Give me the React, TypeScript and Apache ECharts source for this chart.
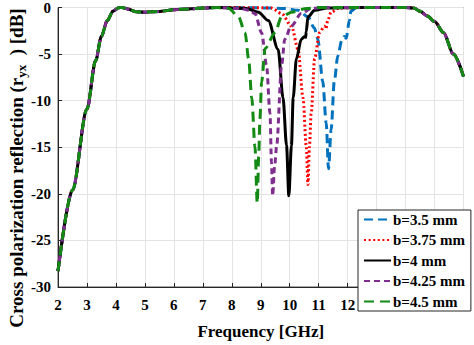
import React, { useEffect, useRef } from "react";
import * as echarts from "echarts";

const seriesNames = ["b=3.5 mm", "b=3.75 mm", "b=4 mm", "b=4.25 mm", "b=4.5 mm"];
const colors = ["#0072BD", "#FF0000", "#000000", "#7E2F8E", "#138A13"];

const commonStart: number[][] = [
  [2, -28.3], [2.5, -19.6], [3, -10.9], [3.3, -5.7], [3.5, -3.1], [3.7, -1.4],
  [3.9, -0.4], [4.1, -0.02], [4.2, 0], [4.4, -0.15],
  [4.7, -0.45], [5, -0.5], [5.5, -0.42], [6, -0.25], [6.5, -0.15], [7, -0.05], [7.5, 0],
];
const commonEnd: number[][] = [
  [12.5, 0], [13, 0], [13.5, 0], [14, 0], [14.28, -0.05], [14.5, -0.4], [14.75, -0.9],
  [15, -1.5], [15.31, -2.7], [15.65, -5], [16, -7.4],
];

const dipB35: number[][] = [
  [8.5, -0.02], [9.3, -0.05], [9.83, -0.1], [10.29, -0.3], [10.63, -1], [10.85, -2.2],
  [10.97, -3.4], [11.14, -7.9], [11.26, -12.4], [11.34, -17.3], [11.43, -13.1],
  [11.54, -7.9], [11.66, -5.2], [11.8, -3.5], [11.89, -3.1], [11.95, -3.3], [12.06, -1.4],
  [12.11, -0.4], [12.3, 0],
];
const dipB375: number[][] = [
  [9, -0.02], [9.37, -0.05], [9.72, -0.65], [10.06, -2], [10.29, -4.5], [10.46, -9.7],
  [10.57, -14.8], [10.63, -19], [10.68, -15], [10.74, -11.4], [10.86, -5.5], [11.03, -2.7],
  [11.2, -2], [11.25, -2.3], [11.31, -1.4], [11.43, -0.5], [11.7, -0.05],
];
const dipB4: number[][] = [
  [8.5, -0.1], [8.92, -0.5], [9.26, -1.4], [9.6, -4.5], [9.77, -9.7], [9.89, -14.8],
  [9.97, -20.2], [10.06, -14.8], [10.12, -9.7], [10.23, -5.5], [10.4, -3.4], [10.52, -3.1],
  [10.55, -3.2], [10.57, -2.6], [10.63, -1], [10.86, -0.3], [11.3, -0.05],
];
const dipB425: number[][] = [
  [8.3, -0.1], [8.6, -0.3], [8.8, -0.65], [9.03, -2.7], [9.2, -6.2], [9.32, -11.4],
  [9.37, -16.6], [9.41, -20.2], [9.48, -17], [9.55, -14.8], [9.72, -6.2], [9.83, -3.4],
  [10.05, -2], [10.4, -0.65], [10.75, -0.1], [11.2, 0],
];
const dipB45: number[][] = [
  [7.9, -0.1], [8.23, -1], [8.46, -2.7], [8.58, -5.5], [8.69, -9.7], [8.8, -14.9],
  [8.88, -21], [8.93, -16], [8.97, -12], [9.03, -8], [9.15, -4.4], [9.49, -2.7],
  [9.72, -1], [10.06, -0.5], [10.6, -0.1], [11, 0],
];

const dips = [dipB35, dipB375, dipB4, dipB425, dipB45];
const dashTypes: any[] = [[9, 5], [2, 2.6], "solid", [6, 4], [10, 6]];

const xTicks = { min: 2, max: 16, interval: 1 };
const yTicks = { min: -30, max: 0, interval: 5 };

const FONT = "'Liberation Serif', 'Times New Roman', serif";

export default function App() {
  const ref = useRef<HTMLDivElement>(null);
  useEffect(() => {
    if (!ref.current) return;
    const chart = echarts.init(ref.current, undefined, { renderer: "svg" });
    const series = seriesNames.map((name, i) => ({
      name,
      type: "line",
      data: [...commonStart, ...dips[i], ...commonEnd],
      smooth: 0.3,
      smoothMonotone: "x",
      symbol: "none",
      showSymbol: false,
      lineStyle: { color: colors[i], width: 3, type: dashTypes[i] },
      itemStyle: { color: colors[i] },
      z: 2 + i,
    }));
    chart.setOption({
      animation: false,
      backgroundColor: "#ffffff",
      grid: {
        left: 58, right: 7, top: 7, bottom: 49,
        show: true, borderColor: "#555", borderWidth: 1, backgroundColor: "transparent",
      },
      xAxis: {
        type: "value", ...xTicks,
        axisLine: { show: true, onZero: false, lineStyle: { color: "#262626", width: 1 } },
        axisTick: { show: true, inside: true, length: 4, lineStyle: { color: "#262626" } },
        axisLabel: { color: "#000", fontFamily: FONT, fontWeight: "bold", fontSize: 15, margin: 10 },
        splitLine: { show: true, lineStyle: { color: "#e3e3e3", width: 1 } },
        name: "Frequency [GHz]",
        nameLocation: "middle",
        nameGap: 36,
        nameTextStyle: { color: "#000", fontFamily: FONT, fontWeight: "bold", fontSize: 17 },
      },
      yAxis: {
        type: "value", ...yTicks,
        axisLine: { show: true, onZero: false, lineStyle: { color: "#262626", width: 1 } },
        axisTick: { show: true, inside: true, length: 4, lineStyle: { color: "#262626" } },
        axisLabel: { color: "#000", fontFamily: FONT, fontWeight: "bold", fontSize: 15, margin: 7 },
        splitLine: { show: true, lineStyle: { color: "#e3e3e3", width: 1 } },
      },
      legend: {
        orient: "vertical",
        left: 358,
        top: 210,
        width: 107,
        padding: [2, 6, 2, 5],
        itemWidth: 27,
        itemHeight: 12,
        itemGap: 5.5,
        backgroundColor: "#fff",
        borderColor: "#262626",
        borderWidth: 1,
        borderRadius: 0,
        itemStyle: { opacity: 0 },
        textStyle: { color: "#000", fontFamily: FONT, fontWeight: "bold", fontSize: 15, padding: [0, 0, 0, -3] },
        data: seriesNames,
      },
      graphic: [
        {
          type: "text",
          x: 16,
          y: 168,
          rotation: Math.PI / 2,
          z: 100,
          style: {
            text: "Cross polarization reflection (r{s|yx}  ) [dB]",
            fill: "#000",
            font: `bold 19px ${FONT}`,
            align: "center",
            verticalAlign: "middle",
            rich: {
              s: { fontFamily: FONT, fontWeight: "bold", fontSize: 13, fill: "#000", padding: [10, 0, 0, 0], verticalAlign: "bottom" },
            },
          },
        },
      ],
      series,
    });
    return () => chart.dispose();
  }, []);
  return <div ref={ref} style={{ width: 474, height: 345, position: "absolute", left: 0, top: 0 }} />;
}
